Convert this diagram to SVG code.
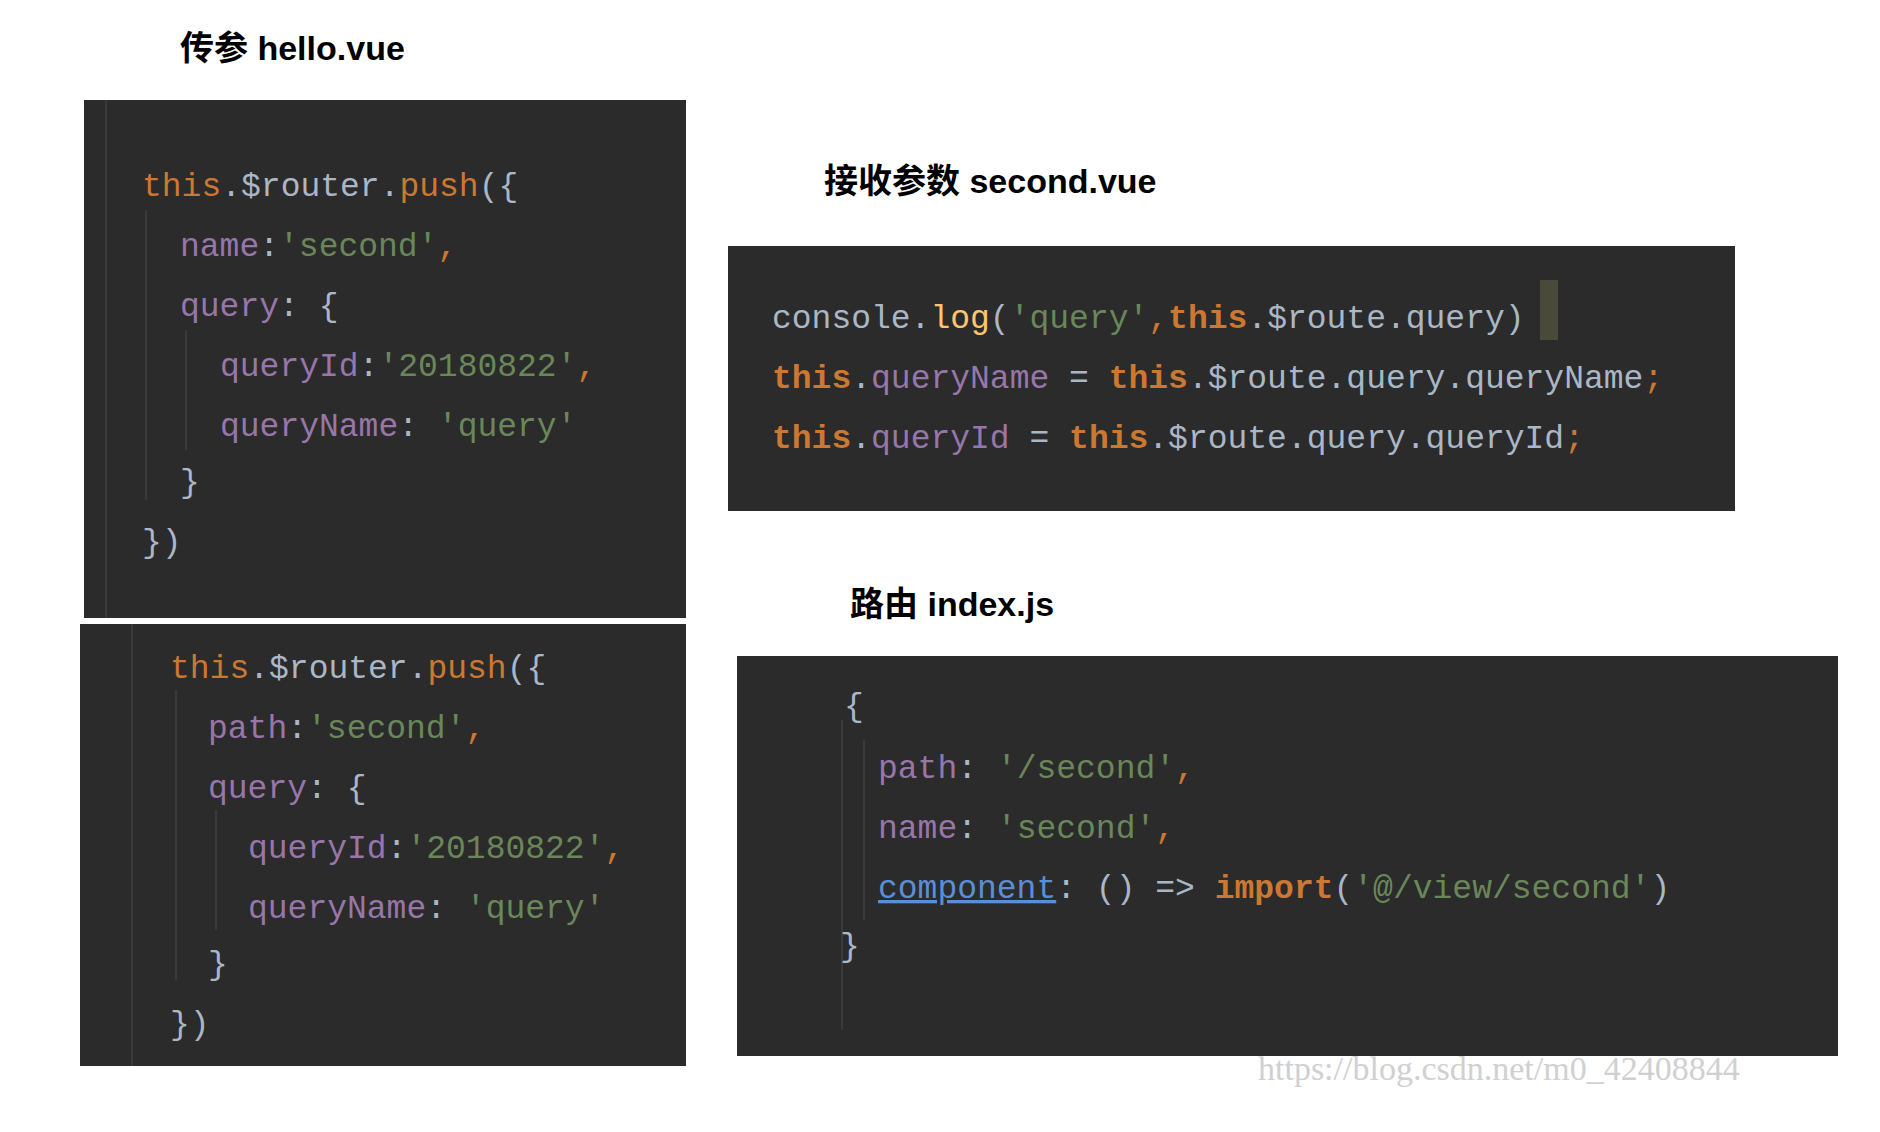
<svg xmlns="http://www.w3.org/2000/svg" width="1880" height="1132" viewBox="0 0 1880 1132">
<style>
.t{font-family:"Liberation Sans","Noto Sans CJK SC",sans-serif;font-weight:bold;font-size:34px;fill:#000}
.c{font-family:"Liberation Mono","Noto Sans CJK SC",monospace;font-size:33px;fill:#a9b7c6}
.k{fill:#cc7832}.p{fill:#9876aa}.g{fill:#6a8759}.b{fill:#5a8fd6;text-decoration:underline}
.bg{fill:#2b2b2b}
.guide{stroke:#3a3a3a;stroke-width:2}
</style>
<rect width="1880" height="1132" fill="#fff"/>
<g id="title-hello"><text class="t" x="180" y="60">传参  hello.vue</text></g>
<g id="title-second"><text class="t" x="824" y="193">接收参数  second.vue</text></g>
<g id="title-index"><text class="t" x="850" y="616">路由  index.js</text></g>
<g id="box-hello-name">
<rect class="bg" x="84" y="100" width="602" height="518"/>
<line class="guide" x1="106" y1="100" x2="106" y2="618"/>
<line class="guide" x1="146" y1="210" x2="146" y2="500"/>
<line class="guide" x1="186" y1="330" x2="186" y2="450"/>
<text class="c" x="142" y="196"><tspan class="k">this</tspan>.$router.<tspan class="k">push</tspan>({</text>
<text class="c" x="180" y="256"><tspan class="p">name</tspan>:<tspan class="g">'second'</tspan><tspan class="k">,</tspan></text>
<text class="c" x="180" y="316"><tspan class="p">query</tspan>: {</text>
<text class="c" x="220" y="376"><tspan class="p">queryId</tspan>:<tspan class="g">'20180822'</tspan><tspan class="k">,</tspan></text>
<text class="c" x="220" y="436"><tspan class="p">queryName</tspan>: <tspan class="g">'query'</tspan></text>
<text class="c" x="180" y="492">}</text>
<text class="c" x="142" y="552">})</text>
</g>
<g id="box-hello-path">
<rect class="bg" x="80" y="624" width="606" height="442"/>
<line class="guide" x1="132" y1="624" x2="132" y2="1066"/>
<line class="guide" x1="176" y1="690" x2="176" y2="980"/>
<line class="guide" x1="216" y1="810" x2="216" y2="930"/>
<text class="c" x="170" y="678"><tspan class="k">this</tspan>.$router.<tspan class="k">push</tspan>({</text>
<text class="c" x="208" y="738"><tspan class="p">path</tspan>:<tspan class="g">'second'</tspan><tspan class="k">,</tspan></text>
<text class="c" x="208" y="798"><tspan class="p">query</tspan>: {</text>
<text class="c" x="248" y="858"><tspan class="p">queryId</tspan>:<tspan class="g">'20180822'</tspan><tspan class="k">,</tspan></text>
<text class="c" x="248" y="918"><tspan class="p">queryName</tspan>: <tspan class="g">'query'</tspan></text>
<text class="c" x="208" y="974">}</text>
<text class="c" x="170" y="1034">})</text>
</g>
<g id="box-second">
<rect class="bg" x="728" y="246" width="1007" height="265"/>
<rect x="1540" y="280" width="18" height="60" fill="#4a4a3a"/>
<text class="c" x="772" y="328">console.<tspan fill="#ffc66d">log</tspan>(<tspan class="g">'query'</tspan><tspan class="k">,</tspan><tspan class="k" font-weight="bold">this</tspan>.$route.query)</text>
<text class="c" x="772" y="388"><tspan class="k" font-weight="bold">this</tspan>.<tspan class="p">queryName</tspan> = <tspan class="k" font-weight="bold">this</tspan>.$route.query.queryName<tspan class="k">;</tspan></text>
<text class="c" x="772" y="448"><tspan class="k" font-weight="bold">this</tspan>.<tspan class="p">queryId</tspan> = <tspan class="k" font-weight="bold">this</tspan>.$route.query.queryId<tspan class="k">;</tspan></text>
</g>
<g id="box-index">
<rect class="bg" x="737" y="656" width="1101" height="400"/>
<line class="guide" x1="842" y1="720" x2="842" y2="1030"/>
<line class="guide" x1="864" y1="740" x2="864" y2="920"/>
<text class="c" x="844" y="716">{</text>
<text class="c" x="878" y="778"><tspan class="p">path</tspan>: <tspan class="g">'/second'</tspan><tspan class="k">,</tspan></text>
<text class="c" x="878" y="838"><tspan class="p">name</tspan>: <tspan class="g">'second'</tspan><tspan class="k">,</tspan></text>
<text class="c" x="878" y="898"><tspan class="b">component</tspan>: () =&gt; <tspan class="k" font-weight="bold">import</tspan>(<tspan class="g">'@/view/second'</tspan>)</text>
<text class="c" x="840" y="956">}</text>
</g>
<text x="1258" y="1080" font-family="Liberation Serif,serif" font-size="34" fill="#d0d0d0">https://blog.csdn.net/m0_42408844</text>
</svg>
